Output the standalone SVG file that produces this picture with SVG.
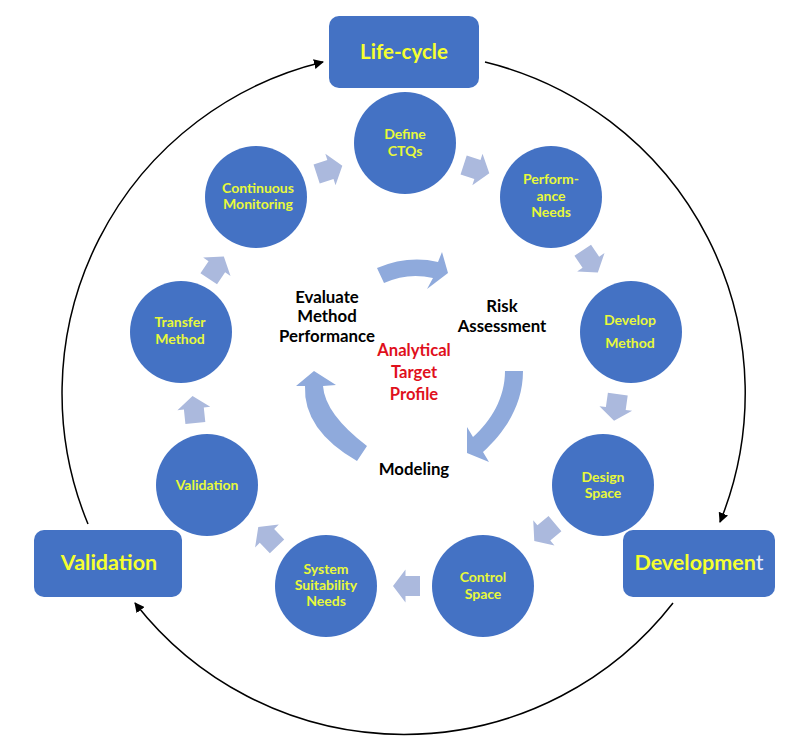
<svg xmlns="http://www.w3.org/2000/svg" width="800" height="741" viewBox="0 0 800 741">
<style>
text{font-family:Lato,"Liberation Sans",sans-serif;font-weight:700;text-anchor:middle}
.phase{fill:#4472c4}
.step{fill:#4472c4}
.sl{fill:#e8f93a;font-size:14px}
.pl{fill:#f6ff2e;font-size:21.5px}
.bl{fill:#000;font-size:16.8px}
.rl{fill:#e0101c;font-size:16.6px}
.arc{fill:none;stroke:#000;stroke-width:1.5}
.chev{fill:#abb9dd}
.big{fill:#8faadc}
</style>
<defs>
<marker id="ah" viewBox="0 0 10 10" refX="9" refY="5" markerWidth="10" markerHeight="10" markerUnits="userSpaceOnUse" orient="auto"><path d="M0 0L10 5L0 10Z" fill="#000"/></marker>
<polygon id="chev" points="-13,-10 1.5,-10 1.5,-16.5 14,0 1.5,16.5 1.5,10 -13,10"/>
</defs>
<rect width="800" height="741" fill="#fff"/>
<g id="connectors">
<path class="arc" marker-end="url(#ah)" d="M485 62A341 341 0 0 1 720 522"/>
<path class="arc" marker-end="url(#ah)" d="M673 603A341 341 0 0 1 135 603"/>
<path class="arc" marker-end="url(#ah)" d="M88 524A341 341 0 0 1 323 62"/>
<g class="chev">
<use href="#chev" transform="translate(329 170) rotate(-18)"/>
<use href="#chev" transform="translate(476 169) rotate(18)"/>
<use href="#chev" transform="translate(590 261) rotate(56)"/>
<use href="#chev" transform="translate(616 407) rotate(98)"/>
<use href="#chev" transform="translate(545 532) rotate(140)"/>
<use href="#chev" transform="translate(407 586) rotate(180)"/>
<use href="#chev" transform="translate(268 537) rotate(-134)"/>
<use href="#chev" transform="translate(194 410) rotate(-96)"/>
<use href="#chev" transform="translate(216 268) rotate(-56)"/>
</g>
<g class="big">
<path d="M377 268Q408 255 438 262L442 252L448 273L427 289L433 278Q408 272 384 283Z"/>
<path d="M505 371H523C523 405 505 432 483 452L489 462L467 453L467 427L473 437C491 421 505 398 505 371Z"/>
<path d="M367 446L357 461Q303 430 305 386L296 386L314 371L336 385L323 386Q325 414 367 446Z"/>
</g>
</g>
<g id="life-cycle"><rect class="phase" x="329" y="16" width="150" height="72" rx="10"/><text class="pl" style="font-size:20.5px" x="404" y="59">Life-cycle</text></g>
<g id="development"><rect class="phase" x="623" y="530" width="152" height="67" rx="10"/><text class="pl" x="699" y="570">Developmen<tspan fill="#e8eef8" font-weight="400">t</tspan></text></g>
<g id="validation-phase"><rect class="phase" x="34" y="530" width="148" height="67" rx="10"/><text class="pl" x="109" y="570">Validation</text></g>
<g id="define-ctqs"><circle class="step" cx="405" cy="143" r="51"/><text class="sl" x="405" y="139">Define</text><text class="sl" x="405" y="156">CTQs</text></g>
<g id="performance-needs"><circle class="step" cx="551" cy="197" r="51"/><text class="sl" x="551" y="184">Perform-</text><text class="sl" x="551" y="201">ance</text><text class="sl" x="551" y="217">Needs</text></g>
<g id="develop-method"><circle class="step" cx="631" cy="332" r="51"/><text class="sl" x="630" y="325">Develop</text><text class="sl" x="630" y="348">Method</text></g>
<g id="design-space"><circle class="step" cx="603" cy="485" r="51"/><text class="sl" x="603" y="482">Design</text><text class="sl" x="603" y="498">Space</text></g>
<g id="control-space"><circle class="step" cx="483" cy="586" r="51"/><text class="sl" x="483" y="582">Control</text><text class="sl" x="483" y="599">Space</text></g>
<g id="system-suitability"><circle class="step" cx="326" cy="586" r="51"/><text class="sl" x="326" y="574">System</text><text class="sl" x="326" y="590">Suitability</text><text class="sl" x="326" y="606">Needs</text></g>
<g id="validation-step"><circle class="step" cx="207" cy="485" r="51"/><text class="sl" x="207" y="490">Validation</text></g>
<g id="transfer-method"><circle class="step" cx="181" cy="332" r="51"/><text class="sl" x="180" y="327">Transfer</text><text class="sl" x="180" y="344">Method</text></g>
<g id="continuous-monitoring"><circle class="step" cx="256" cy="197" r="51"/><text class="sl" x="258" y="193">Continuous</text><text class="sl" x="258" y="209">Monitoring</text></g>
<g id="evaluate"><text class="bl" x="327" y="303">Evaluate</text><text class="bl" x="327" y="322">Method</text><text class="bl" x="327" y="342">Performance</text></g>
<g id="risk"><text class="bl" x="502" y="312">Risk</text><text class="bl" x="502" y="332">Assessment</text></g>
<g id="modeling"><text class="bl" x="414" y="475">Modeling</text></g>
<g id="atp"><text class="rl" x="414" y="356">Analytical</text><text class="rl" x="414" y="378">Target</text><text class="rl" x="414" y="400">Profile</text></g>
</svg>
